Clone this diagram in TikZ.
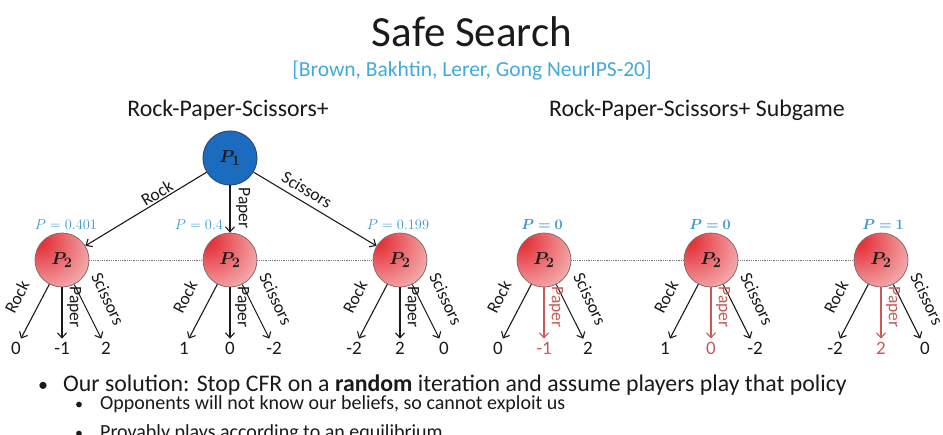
\documentclass[tikz,border=0pt]{standalone}
\usepackage{amsmath,bm}
\usepackage{fontspec}
\setmainfont{Carlito}
\usetikzlibrary{arrows.meta}
\definecolor{txt}{HTML}{1A1A1A}
\definecolor{cite}{HTML}{41AADB}
\definecolor{pblue}{HTML}{3A98CE}
\definecolor{ponefill}{HTML}{1B6BBF}
\definecolor{poneborder}{HTML}{2C4A78}
\definecolor{ptwored}{HTML}{E4333B}
\definecolor{ptwopale}{HTML}{FCF0F0}
\definecolor{ptwoborder}{HTML}{8C6B6B}
\definecolor{paperred}{HTML}{C65A56}
\pgfdeclareradialshading{ptwoshade}{\pgfpoint{-24bp}{20bp}}{color(0bp)=(ptwored);color(6bp)=(ptwored);color(62bp)=(ptwopale);color(90bp)=(ptwopale)}
\newcommand\rpstree[8]{%
  \node[ptwo] (#1) at (#2,260) {$\bm{P_2}$};
  \node[plabel] (#1lab) at (#7,225) {#8};
  \node[leaf] (#1r) at (#2-46,348) {#3};
  \node[leaf, text=#6] (#1p) at (#2,348) {#4};
  \node[leaf] (#1s) at (#2+44,348) {#5};
  \draw[edgearrow] (#1) -- (#1r);
  \draw[edgearrow, draw=#6] (#1) -- (#1p);
  \draw[edgearrow] (#1) -- (#1s);
  \node[edgelbl, rotate=63] (#1rl) at (#2-45,297) {Rock};
  \node[edgelbl, rotate=-90, text=#6] (#1pl) at (#2+12,307) {Paper};
  \node[edgelbl, rotate=-65] (#1sl) at (#2+46,299) {Scissors};
}
\begin{document}
\begin{tikzpicture}[x=1pt,y=-1pt,
  ptwo/.style={circle, minimum size=54pt, inner sep=0pt, shade, shading=ptwoshade, draw=ptwoborder, line width=0.8pt, font=\fontsize{19}{19}\selectfont, text=txt},
  pone/.style={circle, minimum size=54pt, inner sep=0pt, fill=ponefill, draw=poneborder, line width=1pt, font=\fontsize{19}{19}\selectfont, text=txt},
  edgearrow/.style={draw=txt, line width=1.1pt, -{Straight Barb[length=5pt,width=9pt]}},
  edgelbl/.style={font=\fontsize{17.5}{17.5}\selectfont, inner sep=0pt, text=txt},
  leaf/.style={font=\fontsize{19}{19}\selectfont, inner sep=3pt, text=txt},
  plabel/.style={text=pblue, font=\fontsize{14.5}{14.5}\selectfont, inner sep=0pt},
  dotline/.style={draw=black!55, line width=0.9pt, dash pattern=on 0.9pt off 0.9pt},
  heading/.style={anchor=base, text=txt, inner sep=0pt}]
\useasboundingbox (0,0) rectangle (943,435);
\clip (0,0) rectangle (943,435);
\fill[white] (0,0) rectangle (943,435);
% titles
\node[heading, font=\fontsize{43}{43}\selectfont] (title) at (472,47) {Safe Search};
\node[heading, text=cite, font=\fontsize{21.5}{21.5}\selectfont] (cite) at (472,77) {[Brown, Bakhtin, Lerer, Gong NeurIPS-20]};
\node[heading, font=\fontsize{23.8}{23.8}\selectfont] (lefthead) at (228,117) {Rock-Paper-Scissors+};
\node[heading, font=\fontsize{23.8}{23.8}\selectfont] (righthead) at (697,117) {Rock-Paper-Scissors+ Subgame};
% left tree
\node[pone] (p1) at (230,158) {$\bm{P_1}$};
\rpstree{a1}{62}{0}{-1}{2}{txt}{66}{$P=0.401$}
\rpstree{a2}{230}{1}{0}{-2}{txt}{199}{$P=0.4$}
\rpstree{a3}{400}{-2}{2}{0}{txt}{398}{$P=0.199$}
\draw[edgearrow] (p1) -- (a1);
\draw[edgearrow] (p1) -- (a2);
\draw[edgearrow] (p1) -- (a3);
\node[edgelbl, rotate=31] (rocklbl) at (157,193) {Rock};
\node[edgelbl, rotate=-90] (paperlbl) at (243,208) {Paper};
\node[edgelbl, rotate=-31] (scissorslbl) at (307,190) {Scissors};
\draw[dotline] (a1) -- (a2);
\draw[dotline] (a2) -- (a3);
% right tree
\rpstree{b1}{544}{0}{-1}{2}{paperred}{542}{$\bm{P=0}$}
\rpstree{b2}{711}{1}{0}{-2}{paperred}{710}{$\bm{P=0}$}
\rpstree{b3}{881}{-2}{2}{0}{paperred}{883}{$\bm{P=1}$}
\draw[dotline] (b1) -- (b2);
\draw[dotline] (b2) -- (b3);
% bullets
\node[heading, font=\fontsize{20}{20}\selectfont] (dot1) at (43,392) {•};
\node[heading, anchor=base west, font=\fontsize{23.8}{23.8}\selectfont] (line1) at (63,392) {Our solution: Stop CFR on a \textbf{random} iteration and assume players play that policy};
\node[heading, font=\fontsize{16}{16}\selectfont] (dot2) at (79,410) {•};
\node[heading, anchor=base west, font=\fontsize{20}{20}\selectfont] (line2) at (100,410) {Opponents will not know our beliefs, so cannot exploit us};
\node[heading, font=\fontsize{16}{16}\selectfont] (dot3) at (79,439) {•};
\node[heading, anchor=base west, font=\fontsize{20}{20}\selectfont] (line3) at (100,439) {Provably plays according to an equilibrium};
\end{tikzpicture}
\end{document}
